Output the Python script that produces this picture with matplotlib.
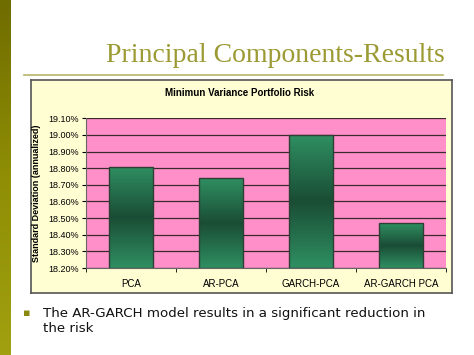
import matplotlib.pyplot as plt
import numpy as np
from matplotlib.colors import LinearSegmentedColormap
from matplotlib.ticker import FuncFormatter

# data
categories = ["PCA", "AR-PCA", "GARCH-PCA", "AR-GARCH PCA"]
risk = [18.81, 18.74, 19.00, 18.47]
y_ticks = [18.2, 18.3, 18.4, 18.5, 18.6, 18.7, 18.8, 18.9, 19.0, 19.1]

W, H = 474, 355
fig = plt.figure(figsize=(W / 100, H / 100), dpi=100)
fig.patch.set_facecolor("white")

def box(x0, y0, x1, y1):
    # pixel coords (top-left origin) -> figure fraction rect
    return [x0 / W, 1 - y1 / H, (x1 - x0) / W, (y1 - y0) / H]

# olive strip on the left
strip = fig.add_axes(box(0, 0, 11, H))
olive = LinearSegmentedColormap.from_list("olive", ["#706d00", "#8f8e05", "#a0a010"])
strip.imshow(np.linspace(0, 1, 100).reshape(-1, 1), cmap=olive, aspect="auto",
             extent=[0, 1, 0, 1], origin="upper")
strip.axis("off")

# slide title + rule
fig.text(445 / W, 1 - 56 / H, "Principal Components-Results", ha="right", va="center",
         family="Liberation Serif", fontsize=20, color="#9c9a34")
fig.add_artist(plt.Line2D([24 / W, 443 / W], [1 - 75 / H, 1 - 75 / H],
                          color="#b8b66a", lw=1.2, transform=fig.transFigure))

# chart frame
frame = fig.add_axes(box(31, 80, 452, 293))
frame.set_facecolor("#fffdd2")
frame.set_xticks([])
frame.set_yticks([])
for s in frame.spines.values():
    s.set_color("#555555")
    s.set_linewidth(1.2)
fig.text(240 / W, 1 - 93 / H, "Minimun Variance Portfolio Risk", ha="center", va="center",
         fontsize=7, fontweight="bold", family="Liberation Sans")

ax = fig.add_axes(box(86, 118.3, 446, 268))
ax.set_facecolor("#ff8fc8")
x = np.arange(len(categories))
bars = ax.bar(x, [r - y_ticks[0] for r in risk], bottom=y_ticks[0], width=0.49,
              color="none", edgecolor="#2f3f35", linewidth=1, zorder=3)
greens = LinearSegmentedColormap.from_list("g", ["#2f8f62", "#1a4d35", "#2f8f62"])
grad = np.linspace(0, 1, 200).reshape(-1, 1)
for b in bars:
    bx, by = b.get_x(), b.get_y()
    im = ax.imshow(grad, cmap=greens, aspect="auto", origin="upper", zorder=2,
                   extent=[bx, bx + b.get_width(), by, by + b.get_height()])
    im.set_clip_path(b)

ax.set_xlim(-0.5, len(categories) - 0.5)
ax.set_ylim(y_ticks[0], y_ticks[-1])
ax.set_yticks(y_ticks)
ax.yaxis.set_major_formatter(FuncFormatter(lambda v, p: f"{v:.2f}%"))
ax.set_xticks(x)
ax.set_xticklabels(categories)
ax.set_xticks(np.arange(len(categories) + 1) - 0.5, minor=True)
ax.tick_params(axis="x", which="major", length=0, pad=8)
ax.tick_params(axis="x", which="minor", length=3, direction="out")
ax.tick_params(axis="y", length=3, direction="out", pad=2)
for lab in ax.get_xticklabels():
    lab.set_fontsize(7)
    lab.set_family("Liberation Sans")
for lab in ax.get_yticklabels():
    lab.set_fontsize(6.5)
    lab.set_family("Liberation Sans")
ax.grid(axis="y", color="#3a2a30", lw=0.9, zorder=1)
ax.set_axisbelow(True)
for side in ["top", "right"]:
    ax.spines[side].set_visible(False)
ax.spines["left"].set_color("#666666")
ax.spines["bottom"].set_color("#666666")
ax.set_ylabel("Standard Deviation (annualized)", fontsize=6.5, fontweight="bold",
              family="Liberation Sans", labelpad=5)

# bullet text
fig.text(27 / W, 1 - 313 / H, "\u25aa", ha="center", va="center", fontsize=8, color="#8a8a10")
fig.text(43 / W, 1 - 321 / H, "The AR-GARCH model results in a significant reduction in\nthe risk",
         ha="left", va="center", fontsize=9.6, linespacing=1.3, color="#111111")

fig.savefig("out.png", dpi=100)
